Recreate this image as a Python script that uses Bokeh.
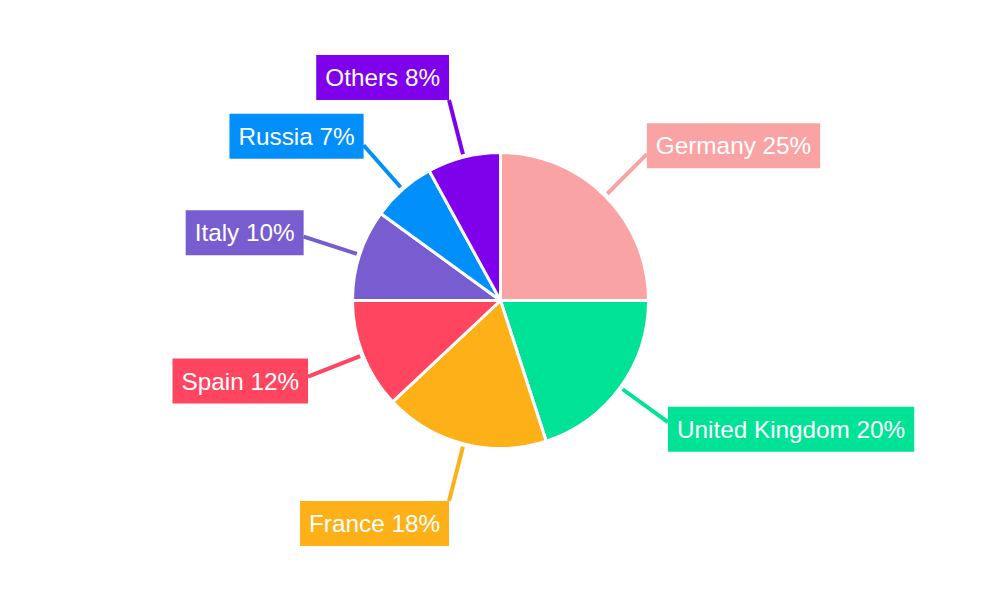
from math import pi, sin, cos
from bokeh.plotting import figure
from bokeh.models import ColumnDataSource, Range1d
from bokeh.core.properties import value
from bokeh.embed import file_html
from bokeh.resources import INLINE

countries = ["Germany", "United Kingdom", "France", "Spain", "Italy", "Russia", "Others"]
shares = [25, 20, 18, 12, 10, 7, 8]
colors = ["#F9A3A4", "#00E396", "#FEB019", "#FF4560", "#775DD0", "#008FFB", "#7F00EA"]

R = 148          # pie radius (px)
R_LINE0 = 151    # connector start
R_LINE1 = 207    # connector end

total = float(sum(shares))
starts, ends = [], []
lx0, ly0, lx1, ly1, ty = [], [], [], [], []
labels, aligns, baselines = [], [], []
cum = 0.0
for c, s in zip(countries, shares):
    a0 = pi / 2 - cum / total * 2 * pi
    cum += s
    a1 = pi / 2 - cum / total * 2 * pi
    starts.append(a0)
    ends.append(a1)
    mid = (a0 + a1) / 2
    dx, dy = cos(mid), sin(mid)
    lx0.append(R_LINE0 * dx)
    ly0.append(R_LINE0 * dy)
    lx1.append(R_LINE1 * dx)
    ly1.append(R_LINE1 * dy)
    labels.append(f"{c} {s}%")
    aligns.append("left" if dx > 0 else "right")
    if abs(dy) > 0.9:
        baselines.append("bottom" if dy > 0 else "top")
        ty.append(R_LINE1 * dy)
    else:
        baselines.append("middle")
        # label box sits a little further out vertically than the line end
        ty.append(R_LINE1 * dy + 12 * dy)

src = ColumnDataSource(dict(start=starts, end=ends, color=colors,
                            x0=lx0, y0=ly0, x1=lx1, y1=ly1, ty=ty,
                            label=labels, align=aligns, base=baselines))

# pie centre sits at (500, 300) in the window
p = figure(width=984, height=584, output_backend="svg", toolbar_location=None,
           x_range=Range1d(-500, 484), y_range=Range1d(-284, 300),
           min_border=0, outline_line_color=None)
p.axis.visible = False
p.grid.visible = False

p.wedge(x=0, y=0, radius=R, start_angle="start", end_angle="end", direction="clock",
        fill_color="color", line_color="white", line_width=3, source=src)

p.segment(x0="x0", y0="y0", x1="x1", y1="y1", line_color="color", line_width=4, source=src)

p.text(x="x1", y="ty", text="label", text_align="align", text_baseline="base",
       text_color="white", text_font=value("Liberation Sans"), text_font_size="24.3px",
       background_fill_color="color", padding=9, source=src)

open("out.html", "w").write(file_html(p, INLINE))
